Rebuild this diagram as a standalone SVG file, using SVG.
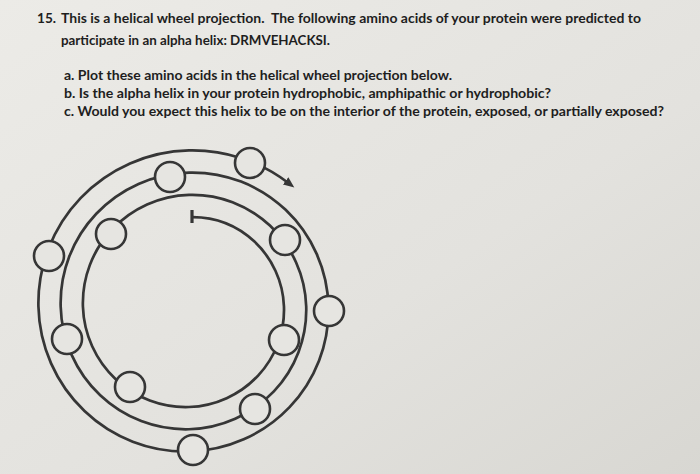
<svg xmlns="http://www.w3.org/2000/svg" width="700" height="474" viewBox="0 0 700 474">
<defs>
<linearGradient id="paper" x1="0" y1="0" x2="1" y2="1">
<stop offset="0" stop-color="#ecebe7"/>
<stop offset="0.6" stop-color="#e3e2de"/>
<stop offset="1" stop-color="#d8d7d2"/>
</linearGradient>
<marker id="arr" markerUnits="userSpaceOnUse" markerWidth="12" markerHeight="10" refX="4" refY="4.5" orient="auto">
<path d="M0,0 L11,4.5 L0,9 z" fill="#363636"/>
</marker>
<style>
.t{font-family:Lato,"Open Sans","Liberation Sans",sans-serif;font-weight:700;font-size:13.6px;fill:#1e1e1e;}
.sp{fill:none;stroke:#363636;stroke-width:2.7;}
.n{fill:#e6e5e1;stroke:#363636;stroke-width:2.6;}
</style>
</defs>
<rect width="700" height="474" fill="url(#paper)"/>
<g id="question">
<text class="t" x="37" y="23">15.</text>
<text class="t" x="61" y="23" textLength="580" lengthAdjust="spacingAndGlyphs" style="white-space:pre">This is a helical wheel projection.  The following amino acids of your protein were predicted to</text>
<text class="t" x="61" y="44.5" textLength="269" lengthAdjust="spacingAndGlyphs">participate in an alpha helix: DRMVEHACKSI.</text>
<text class="t" x="64" y="80" textLength="388" lengthAdjust="spacingAndGlyphs">a. Plot these amino acids in the helical wheel projection below.</text>
<text class="t" x="64" y="98" textLength="487" lengthAdjust="spacingAndGlyphs">b. Is the alpha helix in your protein hydrophobic, amphipathic or hydrophobic?</text>
<text class="t" x="64" y="116" textLength="600" lengthAdjust="spacingAndGlyphs">c. Would you expect this helix to be on the interior of the protein, exposed, or partially exposed?</text>
</g>
<g id="connectors">
<line x1="192" y1="210" x2="192" y2="223" stroke="#363636" stroke-width="3.2"/>
<path class="sp" marker-end="url(#arr)" d="M192.1,217.1
A90.8,90.8 0 0 1 254.18,241.32
A93.6,93.6 0 0 1 283.96,306.5
A96.3,96.3 0 0 1 258.11,375.61
A99.1,99.1 0 0 1 189,407.02
A101.9,101.9 0 0 1 115.95,379.55
A104.7,104.7 0 0 1 82.91,306.5
A107.5,107.5 0 0 1 112.02,229.52
A110.3,110.3 0 0 1 189,194.85
A113,113 0 0 1 269.91,225.59
A115.8,115.8 0 0 1 306.21,306.5
A118.6,118.6 0 0 1 273.85,391.35
A121.4,121.4 0 0 1 189,429.27
A124.2,124.2 0 0 1 100.22,395.28
A126.9,126.9 0 0 1 60.67,306.5
A129.7,129.7 0 0 1 96.28,213.78
A132.5,132.5 0 0 1 189,172.6
A135.3,135.3 0 0 1 285.65,209.85
A138.1,138.1 0 0 1 328.46,306.5
A140.9,140.9 0 0 1 289.58,407.08
A143.6,143.6 0 0 1 189,451.52
A146.4,146.4 0 0 1 84.49,411.01
A149.2,149.2 0 0 1 38.42,306.5
A152,152 0 0 1 80.56,198.06
A154.8,154.8 0 0 1 189,150.36
A157.4,157.4 0 0 1 288.78,183.28"/>
</g>
<g id="node1"><circle class="n" cx="284" cy="340" r="15"/></g>
<g id="node2"><circle class="n" cx="130" cy="387" r="15"/></g>
<g id="node3"><circle class="n" cx="111" cy="234" r="15"/></g>
<g id="node4"><circle class="n" cx="285" cy="240" r="15"/></g>
<g id="node5"><circle class="n" cx="255" cy="409" r="15"/></g>
<g id="node6"><circle class="n" cx="67" cy="339" r="15"/></g>
<g id="node7"><circle class="n" cx="170" cy="177" r="15"/></g>
<g id="node8"><circle class="n" cx="329" cy="311" r="15"/></g>
<g id="node9"><circle class="n" cx="193" cy="450" r="15"/></g>
<g id="node10"><circle class="n" cx="49" cy="256" r="15"/></g>
<g id="node11"><circle class="n" cx="250" cy="163" r="15"/></g>
</svg>
